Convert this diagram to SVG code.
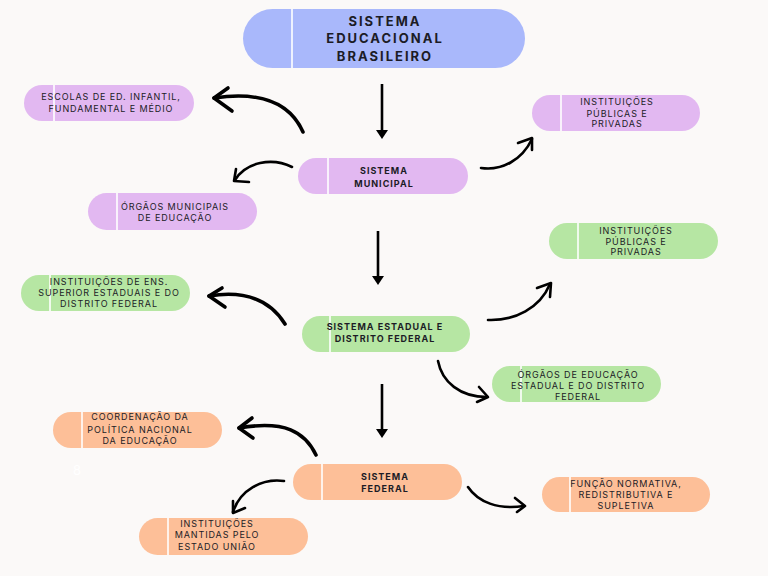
<svg xmlns="http://www.w3.org/2000/svg" width="768" height="576" viewBox="0 0 768 576">
<defs>
<style>
.bg{fill:#fbf9f8}
.p{fill:#e2b8f1}
.g{fill:#b6e6a3}
.o{fill:#fdbf98}
.b{fill:#a9b8fb}
.div{stroke:#ffffff;stroke-width:1.6}
.t{font-family:Inter,"DejaVu Sans",sans-serif;font-size:9px;letter-spacing:0.9px;fill:#1c1c26;text-anchor:middle}
.tb{font-family:Inter,"DejaVu Sans",sans-serif;font-size:9px;font-weight:700;letter-spacing:1px;fill:#1c1c26;text-anchor:middle}
.tt{font-family:Inter,"DejaVu Sans",sans-serif;font-size:13px;font-weight:700;letter-spacing:2px;fill:#1c1c26;text-anchor:middle}
.c{fill:none;stroke:#000;stroke-linecap:round;stroke-linejoin:round}
.w{stroke-width:3.6}
.n{stroke-width:2.6}
.v{stroke:#000;stroke-width:2.6}
</style>
</defs>
<rect class="bg" x="0" y="0" width="768" height="576"/>

<g id="titulo">
<rect class="b" x="243" y="9" width="282" height="59" rx="29.5"/>
<line class="div" x1="292" y1="9" x2="292" y2="68"/>
<text class="tt" x="385" y="25.5">SISTEMA</text>
<text class="tt" x="385" y="43">EDUCACIONAL</text>
<text class="tt" x="385" y="60.5">BRASILEIRO</text>
</g>

<g id="municipal">
<rect class="p" x="298" y="158" width="170" height="36" rx="18"/>
<line class="div" x1="328" y1="158" x2="328" y2="194"/>
<text class="tb" x="384" y="173.5">SISTEMA</text>
<text class="tb" x="384" y="187">MUNICIPAL</text>
</g>

<g id="escolas">
<rect class="p" x="24" y="85" width="170" height="36" rx="18"/>
<line class="div" x1="54" y1="85" x2="54" y2="121"/>
<text class="t" x="111" y="100">ESCOLAS DE ED. INFANTIL,</text>
<text class="t" x="111" y="112">FUNDAMENTAL E MÉDIO</text>
</g>

<g id="orgaos-municipais">
<rect class="p" x="88" y="193" width="169" height="37" rx="18.5"/>
<line class="div" x1="117" y1="193" x2="117" y2="230"/>
<text class="t" x="175" y="209.5">ÓRGÃOS MUNICIPAIS</text>
<text class="t" x="175" y="220.5">DE EDUCAÇÃO</text>
</g>

<g id="inst-municipais">
<rect class="p" x="532" y="95" width="168" height="36" rx="18"/>
<line class="div" x1="561" y1="95" x2="561" y2="131"/>
<text class="t" x="617" y="105">INSTITUIÇÕES</text>
<text class="t" x="617" y="116.5">PÚBLICAS E</text>
<text class="t" x="617" y="127">PRIVADAS</text>
</g>

<g id="estadual">
<rect class="g" x="302" y="316" width="168" height="36" rx="18"/>
<line class="div" x1="330" y1="316" x2="330" y2="352"/>
<text class="tb" x="385" y="329.5">SISTEMA ESTADUAL E</text>
<text class="tb" x="385" y="342">DISTRITO FEDERAL</text>
</g>

<g id="inst-estaduais">
<rect class="g" x="549" y="223" width="169" height="36" rx="18"/>
<line class="div" x1="578" y1="223" x2="578" y2="259"/>
<text class="t" x="636" y="233.5">INSTITUIÇÕES</text>
<text class="t" x="636" y="244.5">PÚBLICAS E</text>
<text class="t" x="636" y="255">PRIVADAS</text>
</g>

<g id="inst-ens-superior">
<rect class="g" x="21" y="275" width="169" height="36" rx="18"/>
<line class="div" x1="50" y1="275" x2="50" y2="311"/>
<text class="t" x="109" y="285">INSTITUIÇÕES DE ENS.</text>
<text class="t" x="109" y="296">SUPERIOR ESTADUAIS E DO</text>
<text class="t" x="109" y="307">DISTRITO FEDERAL</text>
</g>

<g id="orgaos-estaduais">
<rect class="g" x="492" y="366" width="169" height="36" rx="18"/>
<line class="div" x1="521" y1="366" x2="521" y2="402"/>
<text class="t" x="578" y="377.5">ÓRGÃOS DE EDUCAÇÃO</text>
<text class="t" x="578" y="389">ESTADUAL E DO DISTRITO</text>
<text class="t" x="578" y="400">FEDERAL</text>
</g>

<g id="federal">
<rect class="o" x="293" y="464" width="169" height="36" rx="18"/>
<line class="div" x1="322" y1="464" x2="322" y2="500"/>
<text class="tb" x="385" y="479.5">SISTEMA</text>
<text class="tb" x="385" y="492">FEDERAL</text>
</g>

<g id="coordenacao">
<rect class="o" x="53" y="412" width="169" height="36" rx="18"/>
<line class="div" x1="82" y1="412" x2="82" y2="448"/>
<text class="t" x="140" y="420">COORDENAÇÃO DA</text>
<text class="t" x="140" y="432.5">POLÍTICA NACIONAL</text>
<text class="t" x="140" y="444">DA EDUCAÇÃO</text>
</g>

<g id="inst-mantidas">
<rect class="o" x="139" y="518" width="169" height="37" rx="18.5"/>
<line class="div" x1="168" y1="518" x2="168" y2="555"/>
<text class="t" x="217" y="526.5">INSTITUIÇÕES</text>
<text class="t" x="217" y="538">MANTIDAS PELO</text>
<text class="t" x="217" y="549.5">ESTADO UNIÃO</text>
</g>

<g id="funcao">
<rect class="o" x="542" y="477" width="168" height="35" rx="17.5"/>
<line class="div" x1="570" y1="477" x2="570" y2="512"/>
<text class="t" x="626" y="486.5">FUNÇÃO NORMATIVA,</text>
<text class="t" x="626" y="497.5">REDISTRIBUTIVA E</text>
<text class="t" x="626" y="508.5">SUPLETIVA</text>
</g>

<text x="77" y="475" font-family="Inter,sans-serif" font-size="13" fill="#ffffff" text-anchor="middle">8</text>

<g id="conectores">
<line class="v" x1="382" y1="84" x2="382" y2="131"/>
<polygon points="376,130 388,130 382,139" fill="#000"/>
<line class="v" x1="378" y1="231" x2="378" y2="277"/>
<polygon points="372,276 384,276 378,285" fill="#000"/>
<line class="v" x1="382" y1="384" x2="382" y2="430"/>
<polygon points="376,429 388,429 382,438" fill="#000"/>

<path class="c w" d="M303,132 C290,103 262,91 214,98"/>
<polyline class="c w" points="228,88 214,98 232,111"/>

<path class="c n" d="M292,167 C272,157 246,162 235,180"/>
<polyline class="c n" points="236,169 234,181 249,182"/>

<path class="c n" d="M481,168 C502,171 522,160 532,139"/>
<polyline class="c n" points="518,143 532,138 532,150"/>

<path class="c w" d="M285,324 C270,300 245,290 209,296"/>
<polyline class="c w" points="222,288 209,296 225,307"/>

<path class="c n" d="M488,320 C515,321 540,308 550,284"/>
<polyline class="c n" points="537,288 551,283 550,297"/>

<path class="c n" d="M438,361 C442,382 460,397 487,397"/>
<polyline class="c n" points="479,387 488,397 477,402"/>

<path class="c w" d="M316,455 C305,432 285,420 239,428"/>
<polyline class="c w" points="252,418 239,428 253,438"/>

<path class="c n" d="M284,481 C262,478 240,490 233,512"/>
<polyline class="c n" points="233,501 233,513 245,508"/>

<path class="c n" d="M468,487 C478,502 498,510 524,506"/>
<polyline class="c n" points="515,498 525,506 517,512"/>
</g>
</svg>
